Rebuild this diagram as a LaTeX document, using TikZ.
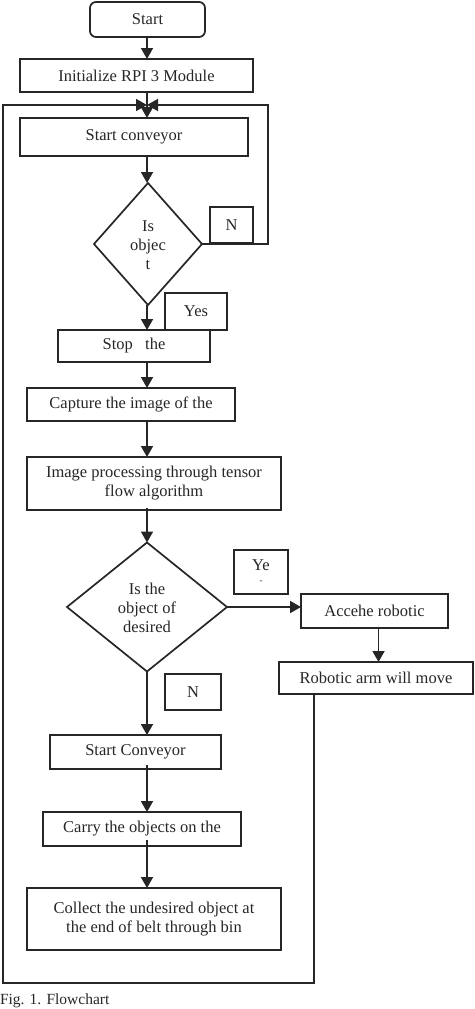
\documentclass[tikz,border=0pt]{standalone}
\usepackage{fontspec}
\setmainfont{Liberation Serif}
\usetikzlibrary{shapes.geometric,arrows.meta}
\begin{document}
\begin{tikzpicture}[x=1pt,y=-1pt,
  every node/.style={inner sep=0pt,outer sep=0pt,text=black!85,font=\fontsize{16.5}{19}\selectfont},
  boxn/.style={draw=black!85,line width=1.7pt,rectangle,align=center},
  dia/.style={draw=black!85,line width=1.7pt,diamond,align=center},
  conn/.style={draw=black!85,line width=1.8pt},
  arr/.style={conn,-{Triangle[length=11pt,width=12pt]}}]
\useasboundingbox (0,0) rectangle (474,1009);
\coordinate (axis) at (147,0);
\node[boxn,rounded corners=6pt,minimum width=115pt,minimum height=35pt] (start) at (147.5,19.5) {Start};
\node[boxn,minimum width=233pt,minimum height=33pt] (init) at (136.5,75.5) {Initialize RPI 3 Module};
\node[boxn,minimum width=228pt,minimum height=38pt] (conv) at (134,137) {Start conveyor};
\node[dia,minimum width=108pt,minimum height=122pt] (d1) at (148,244) {};
\node[align=center] (d1t) at (148,245) {Is\\objec\\t};
\node[boxn,minimum width=43pt,minimum height=36pt] (n1) at (231.5,225) {N};
\node[boxn,minimum width=62pt,minimum height=37pt] (yes1) at (196,311.5) {Yes};
\node[boxn,minimum width=152pt,minimum height=32pt] (stop) at (134,346) {Stop~~~the};
\node[boxn,minimum width=208pt,minimum height=33pt] (cap) at (131,404.5) {Capture the image of the};
\node[boxn,minimum width=254pt,minimum height=53pt] (imgp) at (154,483.5) {Image processing through tensor\\flow algorithm};
\node[dia,minimum width=160pt,minimum height=129pt] (d2) at (147,607) {};
\node[align=center] (d2t) at (147,608) {Is the\\object of\\desired};
\node[boxn,minimum width=54pt,minimum height=44pt] (ye) at (261,572) {Ye\\[-6pt]{\fontsize{9}{9}\selectfont -}};
\node[boxn,minimum width=147pt,minimum height=34pt] (acc) at (374.5,611) {Accehe robotic};
\node[boxn,minimum width=194pt,minimum height=32pt] (arm) at (376,678) {Robotic arm will move};
\node[boxn,minimum width=56pt,minimum height=36pt] (n2) at (193,692) {N};
\node[boxn,minimum width=171pt,minimum height=34pt] (sconv) at (135.5,752) {Start Conveyor};
\node[boxn,minimum width=198pt,minimum height=34pt] (carry) at (142,829) {Carry the objects on the};
\node[boxn,minimum width=254pt,minimum height=62pt] (coll) at (154,919) {Collect the undesired object at\\the end of belt through bin};
\node[anchor=base west,font=\fontsize{15.5}{18}\selectfont] (cap1) at (0,1004) {Fig. 1. Flowchart};
\coordinate (j) at (147,105);
\coordinate (r1) at (268,244);
\coordinate (r2) at (268,105);
\coordinate (armo) at (314,694);
\coordinate (o1) at (314,983);
\coordinate (o2) at (3,983);
\coordinate (o3) at (3,105);
% arrows
\draw[arr] (start.south -| axis) -- (init.north -| axis);
\draw[arr] (init.south -| axis) -- (conv.north -| axis);
\draw[arr] (conv.south -| axis) -- (d1.north -| axis);
\draw[arr] (d1.south -| axis) -- (stop.north -| axis);
\draw[arr] (stop.south -| axis) -- (cap.north -| axis);
\draw[arr] (cap.south -| axis) -- (imgp.north -| axis);
\draw[arr] ([yshift=2pt]imgp.south -| axis) -- (d2.north -| axis);
\draw[arr] (d2.south -| axis) -- (sconv.north -| axis);
\draw[arr] ([yshift=4pt]sconv.south -| axis) -- (carry.north -| axis);
\draw[arr] ([yshift=6pt]carry.south -| axis) -- (coll.north -| axis);
\draw[arr] (d2.east) -- (d2.east -| acc.west);
\draw[arr] ([xshift=4pt]acc.south) -- ([xshift=4pt]acc.south |- arm.north);
\draw[arr] (d1.east) -- (r1) -- (r2) -- (j);
\draw[arr] (armo) -- (o1) -- (o2) -- (o3) -- (j);
\end{tikzpicture}
\end{document}
